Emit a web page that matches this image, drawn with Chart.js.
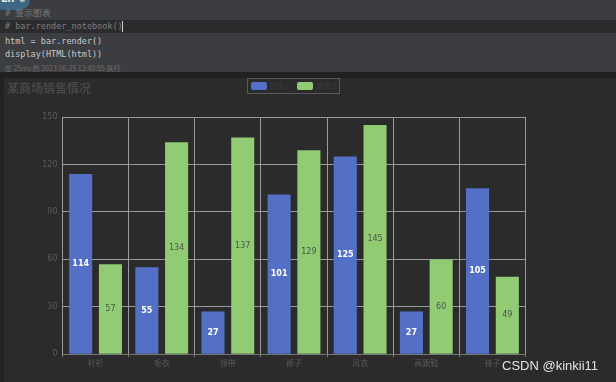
<!DOCTYPE html>
<html>
<head>
<meta charset="utf-8">
<script src="https://cdn.jsdelivr.net/npm/chart.js@4/dist/chart.umd.min.js"></script>
<style>
  html, body { margin:0; padding:0; width:616px; height:382px; overflow:hidden; background:#3c3d40; }
  .abs { position:absolute; white-space:pre; }
  .mono { font-family:"DejaVu Sans Mono", monospace; font-size:8.5px; line-height:12px; }
  #wrap { position:absolute; left:4px; top:78px; width:612px; height:304px; }
  #c { display:block; width:612px; height:304px; }
</style>
</head>
<body>
<div class="abs" style="left:0;top:0;width:616px;height:72px;background:#3c3d40;"></div>
<div class="abs" style="left:-6px;top:-10px;width:36px;height:20px;border-radius:10px;background:#3d6784;"></div>
<div class="abs" style="left:1px;top:-7px;font:bold 10px 'DejaVu Sans';color:#e8e8e8;">Ln ⚙</div>
<div class="abs mono" style="left:5px;top:7px;color:#7a7a7a;"># 显示图表</div>
<div class="abs" style="left:0;top:20px;width:616px;height:13px;background:#2b2c2e;"></div>
<div class="abs mono" style="left:5px;top:20px;color:#7f7f7f;"># bar.render_notebook()</div>
<div class="abs" style="left:122px;top:21px;width:1px;height:11px;background:#d0d0d0;"></div>
<div class="abs mono" style="left:5px;top:35px;color:#c8c8c8;">html = bar.render()</div>
<div class="abs mono" style="left:5px;top:48px;color:#c8c8c8;">display(HTML(html))</div>
<div class="abs" style="left:5px;top:63px;font:7px 'Noto Sans CJK SC','DejaVu Sans';color:#6f6f6f;">在 25ms 的 2023.06.25 12:40:55 执行</div>
<div class="abs" style="left:0;top:72px;width:616px;height:6px;background:#1f2022;"></div>
<div class="abs" style="left:0;top:78px;width:4px;height:304px;background:#232325;"></div>
<div class="abs" style="left:4px;top:78px;width:612px;height:304px;background:#2b2b2b;"></div>

<div id="wrap"><canvas id="c" width="612" height="304"></canvas></div>

<div class="abs" style="left:7px;top:79px;font:bold 12px 'Noto Sans CJK SC';color:#474747;">某商场销售情况</div>
<div class="abs" style="left:247px;top:78px;width:91px;height:14px;border:1px solid #5a5a5a;"></div>
<div class="abs" style="left:251px;top:82px;width:16px;height:8px;border-radius:2px;background:#5470c6;"></div>
<div class="abs" style="left:269px;top:80px;font:8px 'Noto Sans CJK SC';color:#3a3a3a;">商家A</div>
<div class="abs" style="left:297px;top:82px;width:16px;height:8px;border-radius:2px;background:#91cc75;"></div>
<div class="abs" style="left:316px;top:80px;font:8px 'Noto Sans CJK SC';color:#3a3a3a;">商家B</div>

<div class="abs" style="left:502px;top:358px;font:13px 'Liberation Sans';color:#e2e2e2;z-index:5;">CSDN @kinkii11</div>

<script>
const categories = ["衬衫", "毛衣", "领带", "裤子", "风衣", "高跟鞋", "袜子"];
const seriesA = [114, 55, 27, 101, 125, 27, 105];
const seriesB = [57, 134, 137, 129, 145, 60, 49];
const seriesNames = ["商家A", "商家B"];
const yTicks = [0, 30, 60, 90, 120, 150];

const labelPlugin = {
  id: 'barLabels',
  afterDatasetsDraw(chart) {
    const ctx = chart.ctx;
    ctx.save();
    ctx.textAlign = 'center';
    ctx.textBaseline = 'middle';
    chart.data.datasets.forEach((ds, i) => {
      const meta = chart.getDatasetMeta(i);
      ctx.font = (i === 0 ? 'bold ' : '') + '8px "DejaVu Sans"';
      ctx.fillStyle = i === 0 ? '#ffffff' : '#4b5646';
      meta.data.forEach((el, j) => {
        ctx.fillText(String(ds.data[j]), el.x, (el.y + el.base) / 2);
      });
    });
    ctx.restore();
  }
};

new Chart(document.getElementById('c'), {
  type: 'bar',
  data: {
    labels: categories,
    datasets: [
      { label: seriesNames[0], data: seriesA, backgroundColor: '#5470c6', borderWidth: 0 },
      { label: seriesNames[1], data: seriesB, backgroundColor: '#91cc75', borderWidth: 0 }
    ]
  },
  options: {
    responsive: false,
    maintainAspectRatio: false,
    animation: false,
    devicePixelRatio: 1,
    categoryPercentage: 0.9,
    barPercentage: 0.775,
    layout: { padding: { top: 39, right: 90.5, left: 0, bottom: 0 } },
    plugins: { legend: { display: false }, title: { display: false }, tooltip: { enabled: false } },
    scales: {
      x: {
        grid: { color: '#9a9a9a', offset: true, drawTicks: true, tickLength: 3, tickColor: '#747474' },
        border: { color: '#767676' },
        ticks: { color: '#5a5a5a', font: { size: 8, family: 'Noto Sans CJK SC' }, padding: 1, maxRotation: 0, autoSkip: false },
        afterFit(s) { s.height = 27.7; }
      },
      y: {
        min: 0, max: 150,
        afterBuildTicks(s) { s.ticks = yTicks.map(v => ({ value: v })); },
        grid: { color: '#9a9a9a', drawTicks: false },
        border: { color: '#9a9a9a' },
        ticks: { color: '#5a5a5a', font: { size: 8, family: 'DejaVu Sans' }, padding: 5 },
        afterFit(s) { s.width = 58.5; }
      }
    }
  },
  plugins: [labelPlugin]
});
</script>
</body>
</html>
